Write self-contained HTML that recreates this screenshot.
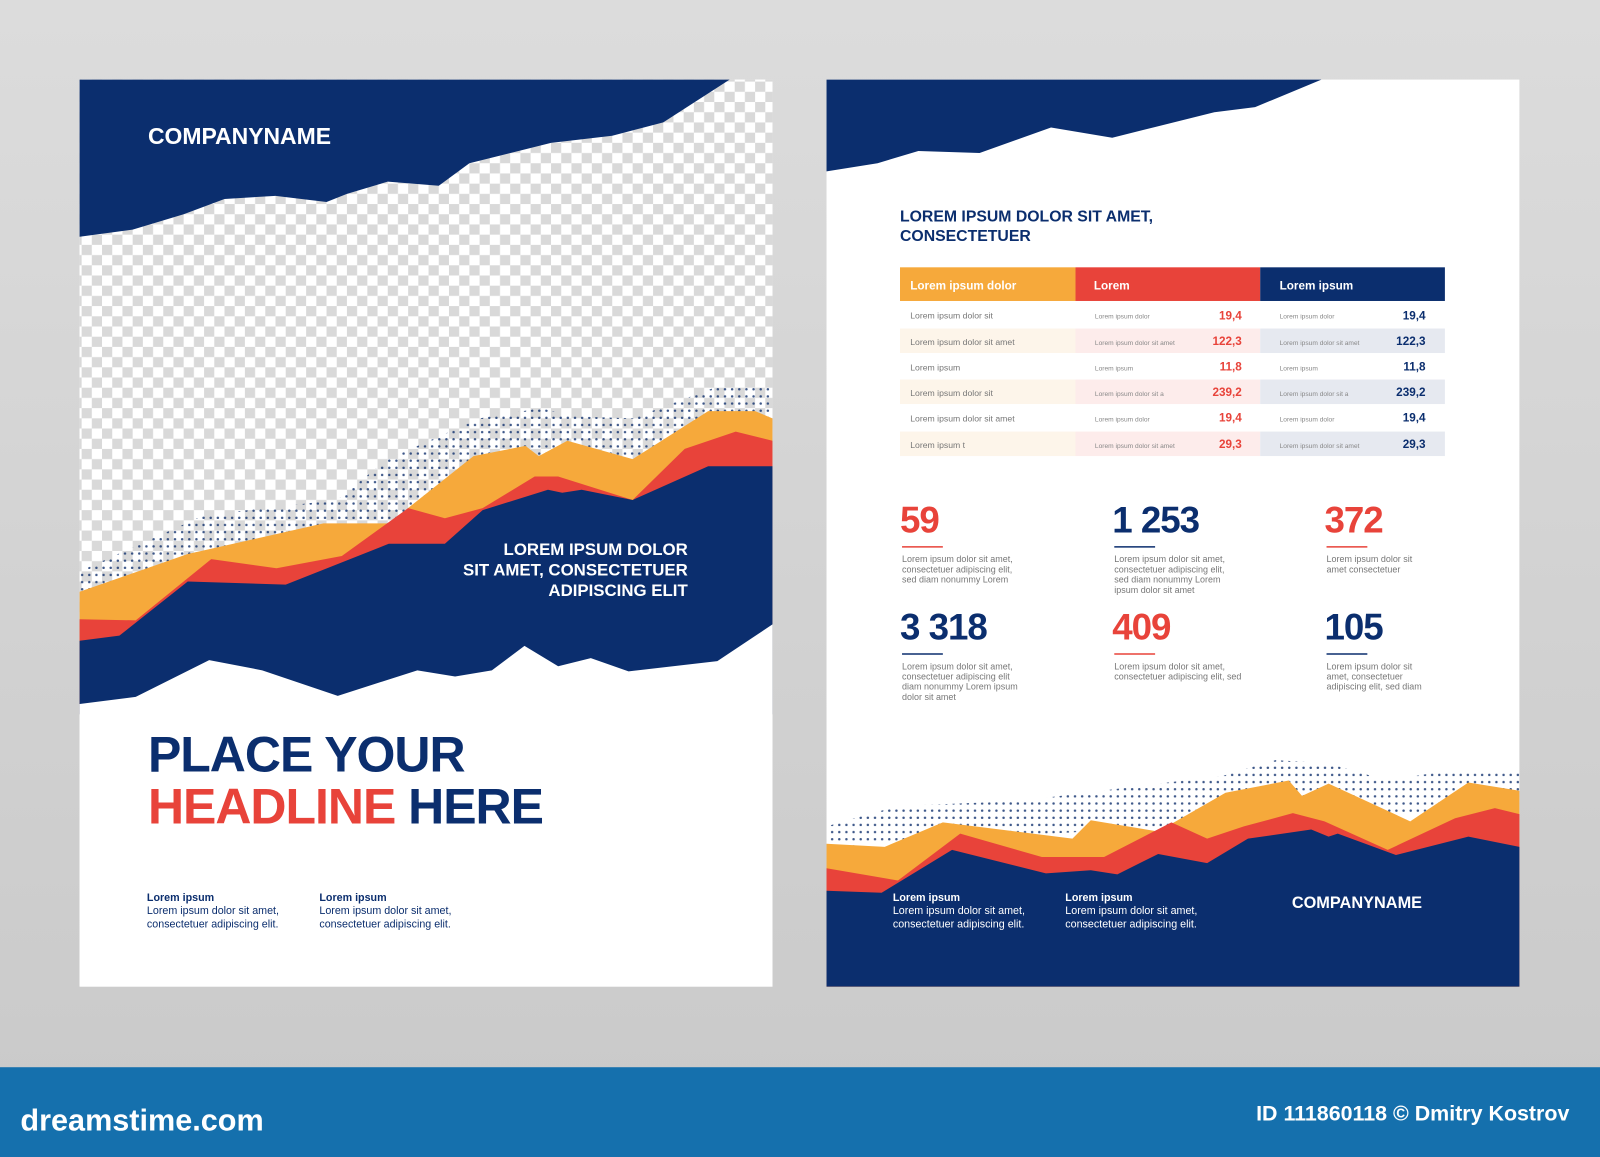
<!DOCTYPE html>
<html><head><meta charset="utf-8"><style>
html,body{margin:0;padding:0;background:#d6d6d6;}
svg{display:block;font-family:"Liberation Sans",sans-serif;}
</style></head><body>
<svg width="1600" height="1157" viewBox="0 0 1568 1134" preserveAspectRatio="none" xmlns="http://www.w3.org/2000/svg">
<defs>
<linearGradient id="bg" x1="0" y1="0" x2="0" y2="1"><stop offset="0" stop-color="#dcdcdc"/><stop offset="1" stop-color="#c9c9c9"/></linearGradient>
<pattern id="chk" width="20" height="20" patternUnits="userSpaceOnUse"><rect width="20" height="20" fill="#fff"/><rect width="10" height="10" fill="#d9d9d9"/><rect x="10" y="10" width="10" height="10" fill="#d9d9d9"/></pattern>
<pattern id="dots" width="7" height="7" patternUnits="userSpaceOnUse"><circle cx="3.5" cy="3.5" r="1.2" fill="#0c2d6b"/></pattern>
</defs>
<rect width="1568" height="1134" fill="url(#bg)"/>
<!-- left page -->
<rect x="78" y="78" width="679" height="889" fill="#fff"/>
<rect x="78" y="78" width="679" height="560" fill="url(#chk)"/>
<polygon points="78,78 715,78 650,120 600,133 540,140 460,160 430,182 380,178 340,190 320,198 270,192 220,195 180,210 130,225 78,232" fill="#0b2e6e"/>
<polygon points="78,560 200,505 330,490 380,450 470,410 530,400 560,408 620,410 700,380 757,378 757,430 78,600" fill="url(#dots)" opacity="0.8"/>
<polygon points="78,580 184,543 317,513 381,513 464,447 515,437 528,447 556,432 620,450 694,403 740,403 757,410 757,700 78,700" fill="#f6a93b"/>
<polygon points="78,607 133,608 207,548 271,557 335,545 400,498 436,508 473,498 524,467 547,467 620,490 671,440 721,423 757,432 757,700 78,700" fill="#e8433a"/>
<polygon points="78,628 117,623 184,570 280,573 381,533 436,533 473,500 537,480 551,483 570,480 620,490 694,457 757,457 757,700 78,700" fill="#0b2e6e"/>
<polygon points="78,690 133,683 205,647 257,657 331,682 409,657 446,663 482,657 514,633 547,653 579,645 616,658 703,648 757,612 757,967 78,967" fill="#fff"/>
<text x="145" y="141" fill="#fff" font-size="22.5" font-weight="bold">COMPANYNAME</text>
<g fill="#fff" font-size="16.5" font-weight="bold" text-anchor="end">
<text x="674" y="544">LOREM IPSUM DOLOR</text>
<text x="674" y="564">SIT AMET, CONSECTETUER</text>
<text x="674" y="584">ADIPISCING ELIT</text></g>
<text x="145" y="756" fill="#0b2e6e" font-size="49" font-weight="bold" letter-spacing="-1">PLACE YOUR</text>
<text x="145" y="807" font-size="49" font-weight="bold" letter-spacing="-1"><tspan fill="#e8433a">HEADLINE</tspan><tspan fill="#0b2e6e"> HERE</tspan></text>
<g font-size="10.5" fill="#0b2e6e">
<text x="144" y="883" font-weight="bold">Lorem ipsum</text>
<text x="144" y="896">Lorem ipsum dolor sit amet,</text>
<text x="144" y="909">consectetuer adipiscing elit.</text>
<text x="313" y="883" font-weight="bold">Lorem ipsum</text>
<text x="313" y="896">Lorem ipsum dolor sit amet,</text>
<text x="313" y="909">consectetuer adipiscing elit.</text></g>
<!-- right page -->
<rect x="810" y="78" width="679" height="889" fill="#fff"/>
<polygon points="810,78 1295,78 1230,105 1190,110 1090,135 1030,125 960,150 900,148 860,160 810,168" fill="#0b2e6e"/>
<text x="882" y="217" fill="#0b2e6e" font-size="15.5" font-weight="bold">LOREM IPSUM DOLOR SIT AMET,</text>
<text x="882" y="236" fill="#0b2e6e" font-size="15.5" font-weight="bold">CONSECTETUER</text>
<rect x="882" y="262" width="172" height="33" fill="#f6a93b"/>
<rect x="1054" y="262" width="181" height="33" fill="#e8433a"/>
<rect x="1235" y="262" width="181" height="33" fill="#0b2e6e"/>
<g fill="#fff" font-size="11.5" font-weight="bold"><text x="892" y="284">Lorem ipsum dolor</text><text x="1072" y="284">Lorem</text><text x="1254" y="284">Lorem ipsum</text></g>
<g>
<rect x="882" y="322" width="172" height="24" fill="#fdf5ea"/><rect x="1054" y="322" width="181" height="24" fill="#fdeceb"/><rect x="1235" y="322" width="181" height="24" fill="#e6e9f0"/>
<rect x="882" y="372" width="172" height="24" fill="#fdf5ea"/><rect x="1054" y="372" width="181" height="24" fill="#fdeceb"/><rect x="1235" y="372" width="181" height="24" fill="#e6e9f0"/>
<rect x="882" y="423" width="172" height="24" fill="#fdf5ea"/><rect x="1054" y="423" width="181" height="24" fill="#fdeceb"/><rect x="1235" y="423" width="181" height="24" fill="#e6e9f0"/>
</g>
<g font-size="8.5" fill="#777">
<text x="892" y="312">Lorem ipsum dolor sit</text><text x="892" y="338">Lorem ipsum dolor sit amet</text><text x="892" y="363">Lorem ipsum</text><text x="892" y="388">Lorem ipsum dolor sit</text><text x="892" y="413">Lorem ipsum dolor sit amet</text><text x="892" y="439">Lorem ipsum t</text>
</g>
<g font-size="6.5" fill="#888">
<text x="1073" y="312">Lorem ipsum dolor</text><text x="1073" y="338">Lorem ipsum dolor sit amet</text><text x="1073" y="363">Lorem ipsum</text><text x="1073" y="388">Lorem ipsum dolor sit a</text><text x="1073" y="413">Lorem ipsum dolor</text><text x="1073" y="439">Lorem ipsum dolor sit amet</text>
<text x="1254" y="312">Lorem ipsum dolor</text><text x="1254" y="338">Lorem ipsum dolor sit amet</text><text x="1254" y="363">Lorem ipsum</text><text x="1254" y="388">Lorem ipsum dolor sit a</text><text x="1254" y="413">Lorem ipsum dolor</text><text x="1254" y="439">Lorem ipsum dolor sit amet</text>
</g>
<g font-size="11.5" font-weight="bold" text-anchor="end" fill="#e8433a">
<text x="1217" y="313">19,4</text><text x="1217" y="338">122,3</text><text x="1217" y="363">11,8</text><text x="1217" y="388">239,2</text><text x="1217" y="413">19,4</text><text x="1217" y="439">29,3</text></g>
<g font-size="11.5" font-weight="bold" text-anchor="end" fill="#0b2e6e">
<text x="1397" y="313">19,4</text><text x="1397" y="338">122,3</text><text x="1397" y="363">11,8</text><text x="1397" y="388">239,2</text><text x="1397" y="413">19,4</text><text x="1397" y="439">29,3</text></g>
<!-- stats -->
<g font-size="36" font-weight="bold" letter-spacing="-1">
<text x="882" y="522" fill="#e8433a">59</text>
<text x="1090" y="522" fill="#0b2e6e">1 253</text>
<text x="1298" y="522" fill="#e8433a">372</text>
<text x="882" y="627" fill="#0b2e6e">3 318</text>
<text x="1090" y="627" fill="#e8433a">409</text>
<text x="1298" y="627" fill="#0b2e6e">105</text></g>
<g stroke-width="1.5">
<line x1="884" y1="536" x2="924" y2="536" stroke="#e8433a"/><line x1="1092" y1="536" x2="1132" y2="536" stroke="#0b2e6e"/><line x1="1300" y1="536" x2="1340" y2="536" stroke="#e8433a"/>
<line x1="884" y1="641" x2="924" y2="641" stroke="#0b2e6e"/><line x1="1092" y1="641" x2="1132" y2="641" stroke="#e8433a"/><line x1="1300" y1="641" x2="1340" y2="641" stroke="#0b2e6e"/></g>
<g font-size="8.8" fill="#777">
<text x="884" y="551">Lorem ipsum dolor sit amet,</text><text x="884" y="561">consectetuer adipiscing elit,</text><text x="884" y="571">sed diam nonummy Lorem</text>
<text x="1092" y="551">Lorem ipsum dolor sit amet,</text><text x="1092" y="561">consectetuer adipiscing elit,</text><text x="1092" y="571">sed diam nonummy Lorem</text><text x="1092" y="581">ipsum dolor sit amet</text>
<text x="1300" y="551">Lorem ipsum dolor sit</text><text x="1300" y="561">amet consectetuer</text>
<text x="884" y="656">Lorem ipsum dolor sit amet,</text><text x="884" y="666">consectetuer adipiscing elit</text><text x="884" y="676">diam nonummy Lorem ipsum</text><text x="884" y="686">dolor sit amet</text>
<text x="1092" y="656">Lorem ipsum dolor sit amet,</text><text x="1092" y="666">consectetuer adipiscing elit, sed</text>
<text x="1300" y="656">Lorem ipsum dolor sit</text><text x="1300" y="666">amet, consectetuer</text><text x="1300" y="676">adipiscing elit, sed diam</text></g>
<!-- bottom waves -->
<polygon points="810,810 880,790 1000,785 1120,770 1200,760 1250,745 1300,748 1360,765 1420,755 1489,755 1489,790 810,830" fill="url(#dots)" opacity="0.8"/>
<polygon points="810,827 867,830 924,806 1051,822 1069,804 1135,815 1201,777 1263,765 1276,780 1302,768 1382,805 1439,767 1489,775 1489,967 810,967" fill="#f6a93b"/>
<polygon points="810,851 880,863 941,817 1021,840 1082,840 1148,806 1183,822 1219,810 1267,797 1298,805 1360,833 1426,802 1465,792 1489,798 1489,967 810,967" fill="#e8433a"/>
<polygon points="810,873 864,875 933,833 1025,856 1069,853 1095,857 1135,837 1183,846 1223,822 1285,813 1302,820 1311,817 1368,838 1439,820 1489,830 1489,967 810,967" fill="#0b2e6e"/>
<g font-size="10.5" fill="#fff">
<text x="875" y="883" font-weight="bold">Lorem ipsum</text><text x="875" y="896">Lorem ipsum dolor sit amet,</text><text x="875" y="909">consectetuer adipiscing elit.</text>
<text x="1044" y="883" font-weight="bold">Lorem ipsum</text><text x="1044" y="896">Lorem ipsum dolor sit amet,</text><text x="1044" y="909">consectetuer adipiscing elit.</text></g>
<text x="1266" y="890" fill="#fff" font-size="16" font-weight="bold">COMPANYNAME</text>
<!-- footer -->
<rect x="0" y="1046" width="1568" height="88" fill="#1570ad"/>
<text x="20" y="1108" fill="#fff" font-size="30" font-weight="bold">dreamstime.com</text>
<text x="1538" y="1098" fill="#fff" font-size="21" font-weight="bold" text-anchor="end">ID 111860118 © Dmitry Kostrov</text>
</svg>
</body></html>
